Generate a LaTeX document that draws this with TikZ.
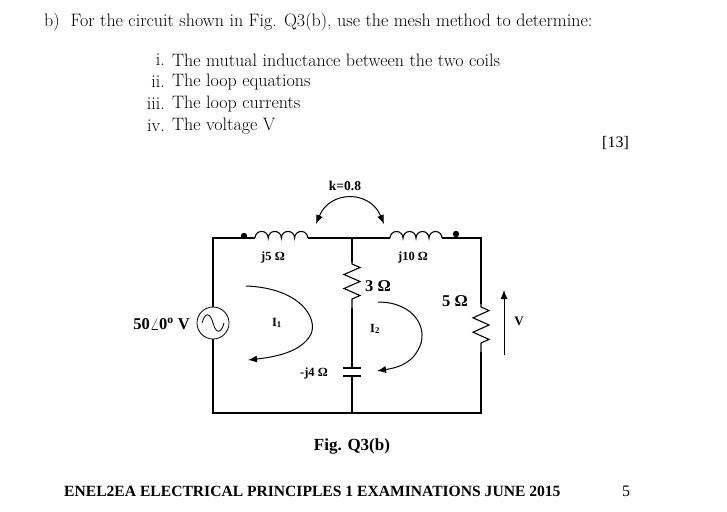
\documentclass[tikz,border=0pt]{standalone}
\usepackage{fontspec}
\setmainfont{Liberation Serif}
\newfontfamily\headfont{Latin Modern Roman}
\usetikzlibrary{arrows.meta}
\begin{document}
\begin{tikzpicture}[x=1pt,y=-1pt,
  wire/.style={line width=1.1pt},
  lbl/.style={font=\bfseries\fontsize{12.5}{14}\selectfont,inner sep=0pt},
  big/.style={font=\bfseries\fontsize{16.5}{18}\selectfont,inner sep=0pt},
  txt/.style={font=\headfont\fontsize{18}{21}\selectfont,anchor=west,inner sep=0pt},
  arr/.style={line width=1pt,-{Latex[length=9pt,width=7pt]}}]
\useasboundingbox (0,0) rectangle (727,511);
% texts
\node[txt] (hdr) at (44,22) {b)\ \ For the circuit shown in Fig. Q3(b), use the mesh method to determine:};
\node[txt,anchor=east] (i1) at (165,60) {i.};
\node[txt] (t1) at (172,60) {The mutual inductance between the two coils};
\node[txt,anchor=east] (i2) at (165,82) {ii.};
\node[txt] (t2) at (172,82) {The loop equations};
\node[txt,anchor=east] (i3) at (165,104) {iii.};
\node[txt] (t3) at (172,104) {The loop currents};
\node[txt,anchor=east] (i4) at (165,126) {iv.};
\node[txt] (t4) at (172,126) {The voltage V};
\node[txt,font=\fontsize{16}{18}\selectfont] (m) at (602,143) {[13]};
% circuit coordinates
\coordinate (tl) at (213,238); \coordinate (tr) at (481,238);
\coordinate (bl) at (213,413); \coordinate (br) at (481,413);
\coordinate (tm) at (352,238); \coordinate (bm) at (352,413);
\coordinate (l1a) at (255,238); \coordinate (l1b) at (308,238);
\coordinate (l2a) at (390,238); \coordinate (l2b) at (442,238);
\coordinate (srct) at (213,307); \coordinate (srcb) at (213,339);
\coordinate (r3a) at (352,262); \coordinate (r3b) at (352,308);
\coordinate (ca) at (352,368); \coordinate (cb) at (352,376);
\coordinate (r5a) at (481,304); \coordinate (r5b) at (481,352);
% wires
\draw[wire] (srct) -- (tl) -- (l1a);
\draw[wire] (l1b) -- (l2a);
\draw[wire] (l2b) -- (tr) -- (r5a);
\draw[wire] (r5b) -- (br) -- (bl) -- (srcb);
\draw[wire] (tm) -- (r3a);
\draw[wire] (r3b) -- (ca);
\draw[wire] (cb) -- (bm);
% inductors
\draw[wire] (l1a) arc(180:360:6.6) arc(180:360:6.6) arc(180:360:6.6) arc(180:360:6.6);
\draw[wire] (l2a) arc(180:360:6.5) arc(180:360:6.5) arc(180:360:6.5) arc(180:360:6.5);
\fill (244,236) circle (3.2); \fill (456,234) circle (3.2);
% resistors
\draw[wire] (r3a) -- ++(0,2) -- ++(8,3.5) -- ++(-16,7) -- ++(16,7) -- ++(-16,7) -- ++(16,7) -- ++(-8,3.5) -- (r3b);
\draw[wire] (r5a) -- ++(0,3) -- ++(8,3.6) -- ++(-16,7.2) -- ++(16,7.2) -- ++(-16,7.2) -- ++(16,7.2) -- ++(-8,3.6) -- (r5b);
% capacitor
\draw[wire] (343,368) -- (361,368); \draw[wire] (343,376) -- (361,376);
% source
\draw[line width=0.8pt] (213,323) circle (16);
\draw[line width=0.8pt] (202,323) .. controls (205,312) and (210,312) .. (213,323) .. controls (216,334) and (221,334) .. (224,323);
% mutual coupling arrow
\draw[{Latex[length=9pt,width=7pt]}-{Latex[length=9pt,width=7pt]},line width=1pt] (316,224) .. controls (330,190) and (370,190) .. (384,224);
% loop arrows
\draw[arr] (246,286) .. controls (300,288) and (318,318) .. (311,334) .. controls (302,352) and (275,357) .. (248,360);
\draw[arr] (378,302) .. controls (415,302) and (430,330) .. (418,350) .. controls (410,365) and (395,368) .. (377,371);
% V arrow
\draw[arr] (504,355) -- (504,290);
% labels
\node[lbl,font=\bfseries\fontsize{13.5}{15}\selectfont] (kl) at (345,186) {k=0.8};
\node[lbl] (lj5) at (273,257) {j5 Ω};
\node[lbl] (lj10) at (413,257) {j10 Ω};
\node[big] (l3) at (378,286) {3 Ω};
\node[big] (l5) at (455,301) {5 Ω};
\node[lbl,font=\bfseries\fontsize{13}{15}\selectfont] (lV) at (519,321) {V};
\node[lbl] (lI1) at (277,323) {I\textsubscript{1}};
\node[lbl] (lI2) at (375,329) {I\textsubscript{2}};
\node[lbl] (lc) at (314,373) {-j4 Ω};
\node[big,anchor=east] (ls) at (190,324) {50$\angle$0\textsuperscript{o} V};
\node[lbl,font=\bfseries\fontsize{17}{19}\selectfont] (fig) at (352,446) {Fig. Q3(b)};
\node[lbl,font=\bfseries\fontsize{15.6}{18}\selectfont,anchor=west] (ft) at (64,491) {ENEL2EA ELECTRICAL PRINCIPLES 1 EXAMINATIONS JUNE 2015};
\node[lbl,font=\fontsize{16}{18}\selectfont] (pg) at (626,491) {5};
\end{tikzpicture}
\end{document}
